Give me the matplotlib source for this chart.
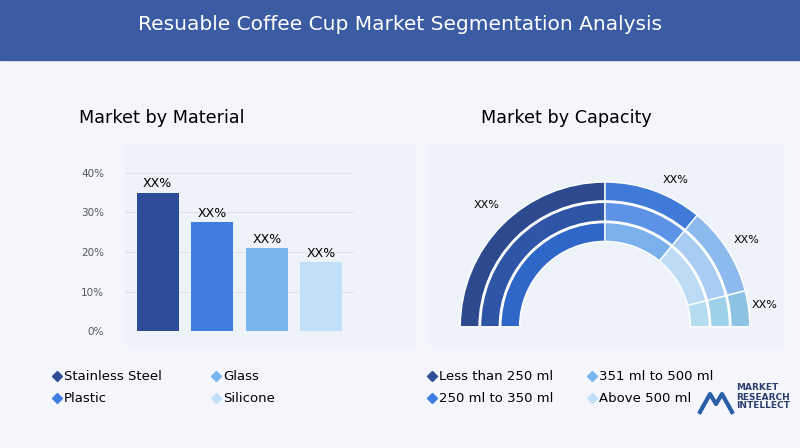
import matplotlib.pyplot as plt
from matplotlib.patches import Wedge, Rectangle

title = "Resuable Coffee Cup Market Segmentation Analysis"
materials = ["Stainless Steel", "Plastic", "Glass", "Silicone"]
material_share = [35, 27.5, 21, 17.5]
material_colors = ["#2e4d97", "#3f7de0", "#7ab6ee", "#bfe0f8"]
bar_labels = ["XX%", "XX%", "XX%", "XX%"]
y_ticks = [0, 10, 20, 30, 40]

capacities = ["Less than 250 ml", "250 ml to 350 ml", "351 ml to 500 ml", "Above 500 ml"]
capacity_share = [50, 22, 20, 8]
ring_colors = [
    ["#2c4a8d", "#3f7ad8", "#8cbaec", "#8cc3e3"],  # outer
    ["#2f56a6", "#5d93e6", "#a9cdf2", "#9fd0ea"],  # middle
    ["#2f67c8", "#7ab0ec", "#bcdcf5", "#b3dcf0"],  # inner
]
legend_colors = ["#2e4d97", "#3f7de0", "#7ab6ee", "#bfe0f8"]

W, H = 800, 448
fig = plt.figure(figsize=(8, 4.48), dpi=100)
fig.patch.set_facecolor("#f4f6fb")

bg = fig.add_axes([0, 0, 1, 1])
bg.set_xlim(0, W)
bg.set_ylim(H, 0)
bg.axis("off")
bg.add_patch(Rectangle((0, 0), W, 60, color="#3b5ba3"))
bg.text(W / 2, 24, title, color="white", fontsize=14.5, ha="center", va="center")
bg.add_patch(Rectangle((125, 145), 290, 200, color="#eef2f9"))
bg.add_patch(Rectangle((428, 145), 355, 200, color="#eef2f9"))
bg.text(162, 118, "Market by Material", fontsize=12.7, ha="center", va="center")
bg.text(566, 118, "Market by Capacity", fontsize=12.7, ha="center", va="center")


def legend(items, colors, xs, ys):
    for i, (name, c) in enumerate(zip(items, colors)):
        x, y = xs[i // 2], ys[i % 2]
        bg.plot(x, y, marker="D", ms=5, color=c, linestyle="none")
        bg.text(x + 7, y, name, fontsize=9.5, va="center")


legend(materials, legend_colors, [57, 216], [376, 398])
legend(capacities, legend_colors, [432, 592], [376, 398])

# logo
bg.text(736, 397, "MARKET\nRESEARCH\nINTELLECT", fontsize=6.5, fontweight="bold",
        color="#2a3f6e", va="center", linespacing=1.0)
bg.plot([700, 710, 716, 722, 732], [412, 394, 404, 394, 412], color="#2a5fa8", lw=3)

# bar chart
ax = fig.add_axes([125 / W, 1 - 331 / H, 229 / W, 158 / H])
ax.set_facecolor("none")
x = range(len(materials))
ax.bar(x, material_share, width=0.77, color=material_colors)
for i, v in enumerate(material_share):
    ax.text(i, v + 0.6, bar_labels[i], ha="center", va="bottom", fontsize=9)
ax.set_ylim(0, 40)
ax.set_xlim(-0.6, 3.6)
ax.set_yticks(y_ticks)
ax.set_yticklabels([f"{t}%" for t in y_ticks], fontsize=7.5, color="#555566")
ax.set_xticks([])
ax.grid(axis="y", color="#dde3ee", lw=0.8)
ax.set_axisbelow(True)
for s in ax.spines.values():
    s.set_visible(False)
ax.tick_params(length=0, pad=15)

# semicircle donut
ax2 = fig.add_axes([440 / W, 1 - 330 / H, 330 / W, 170 / H])
ax2.set_facecolor("none")
ax2.set_aspect("equal")
ax2.axis("off")
ax2.set_xlim(-1.14, 1.14)
ax2.set_ylim(-0.02, 1.15)
radii = [(0.87, 1.0), (0.73, 0.86), (0.59, 0.72)]
total = sum(capacity_share)
start = 180.0
for j, v in enumerate(capacity_share):
    span = 180.0 * v / total
    for r, (r0, r1) in enumerate(radii):
        ax2.add_patch(Wedge((0, 0), r1, start - span, start, width=r1 - r0,
                            facecolor=ring_colors[r][j], edgecolor="white", lw=1.0))
    start -= span
ax2.text(-0.82, 0.82, "XX%", fontsize=8, ha="center")
ax2.text(0.49, 0.99, "XX%", fontsize=8, ha="center")
ax2.text(0.98, 0.58, "XX%", fontsize=8, ha="center")
ax2.text(1.1, 0.13, "XX%", fontsize=8, ha="center")

fig.savefig("out.png", dpi=100, facecolor=fig.get_facecolor())
